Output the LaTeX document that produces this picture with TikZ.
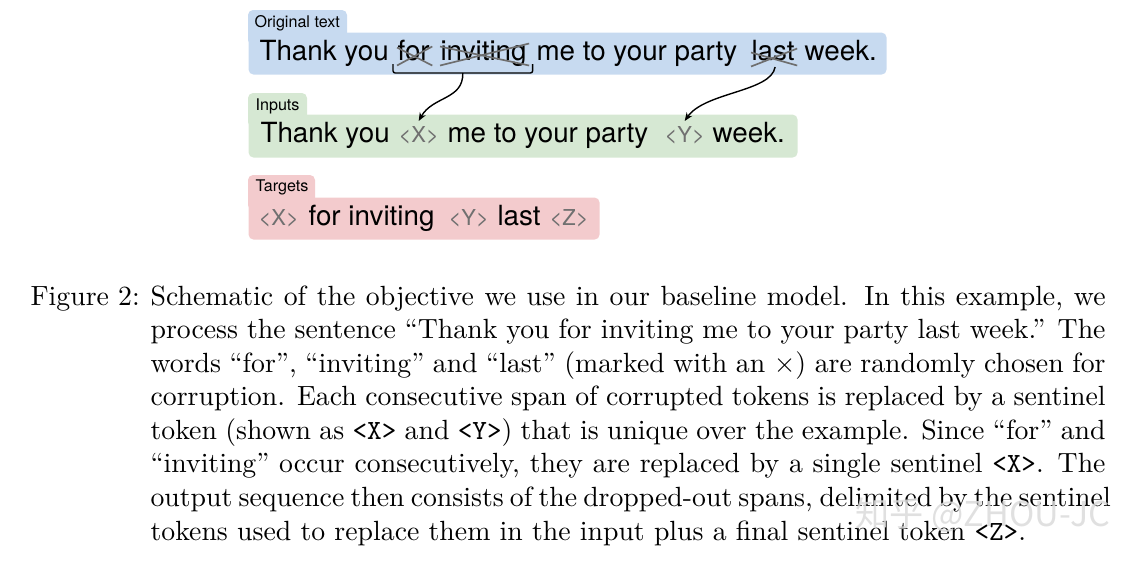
\documentclass[tikz,border=0pt]{standalone}
\usepackage{fontspec}
\newfontfamily\heros{TeX Gyre Heros}
\newfontfamily\cjkwm{Noto Sans CJK SC}
\usetikzlibrary{arrows.meta,calc}
\definecolor{bluebg}{RGB}{199,218,240}
\definecolor{greenbg}{RGB}{214,232,211}
\definecolor{redbg}{RGB}{243,203,205}
\definecolor{tokgray}{RGB}{112,112,112}
\definecolor{xgray}{RGB}{110,110,110}
\newcommand\capline[1]{\makebox[343.8pt][s]{#1}}
\tikzset{
  panel/.style={rounded corners=1.8pt, inner sep=0pt, anchor=north west},
  tabtext/.style={font=\heros\fontsize{5.8}{7}\selectfont, inner sep=0pt, anchor=base west},
  word/.style={font=\heros\fontsize{10}{12}\selectfont, inner sep=0pt, anchor=base west},
  tok/.style={font=\heros\fontsize{7.9}{9}\selectfont, text=tokgray, inner sep=0pt, anchor=base west},
  xline/.style={draw=xgray, line width=0.6pt},
  link/.style={draw=black, line width=0.5pt, -{Stealth[length=3pt,width=2.4pt]}},
  capstyle/.style={inner sep=0pt, anchor=base west},
}
\begin{document}
\begin{tikzpicture}[x=0.36pt,y=-0.36pt]
\useasboundingbox (0,0) rectangle (1136,561);

% panels
\node[panel, fill=bluebg, minimum width=638*0.36pt, minimum height=42*0.36pt] (orig) at (248,32) {};
\fill[bluebg, rounded corners=1.8pt] (248,45) -- (248,10) -- (347,10) -- (347,45) -- cycle;
\node[panel, fill=greenbg, minimum width=549*0.36pt, minimum height=43*0.36pt] (inp) at (248,114) {};
\fill[greenbg, rounded corners=1.8pt] (248,127) -- (248,93) -- (307,93) -- (307,127) -- cycle;
\node[panel, fill=redbg, minimum width=351*0.36pt, minimum height=42*0.36pt] (tgt) at (248,197) {};
\fill[redbg, rounded corners=1.8pt] (248,210) -- (248,175) -- (315,175) -- (315,210) -- cycle;

% tab labels
\node[tabtext] (lorig) at (254,27.5) {Original text};
\node[tabtext] (linp) at (255,110.5) {Inputs};
\node[tabtext] (ltgt) at (255,191.5) {Targets};

% original text
\node[word] (b1) at (259,60.5) {Thank you};
\node[word] (b2) at (397,60.5) {for};
\node[word] (b3) at (440,60.5) {inviting};
\node[word] (b4) at (536,60.5) {me to your party};
\node[word] (b5) at (751,60.5) {last};
\node[word] (b6) at (804,60.5) {week.};

% inputs
\node[word] (g1) at (260,142.5) {Thank you};
\node[tok]  (g2) at (398,142.5) {<X>};
\node[word] (g3) at (447,142.5) {me to your party};
\node[tok]  (g4) at (664,142.5) {<Y>};
\node[word] (g5) at (712,142.5) {week.};

% targets
\node[tok]  (r1) at (258,225.5) {<X>};
\node[word] (r2) at (308,225.5) {for inviting};
\node[tok]  (r3) at (448,225.5) {<Y>};
\node[word] (r4) at (497,225.5) {last};
\node[tok]  (r5) at (549,225.5) {<Z>};

% crosses
\draw[xline] ($(b2.base west)+(0,-13)$) -- ($(b2.base east)+(2,5)$);
\draw[xline] ($(b2.base west)+(0,5)$) -- ($(b2.base east)+(2,-14)$);
\draw[xline] ($(b3.base west)+(0,-14)$) -- ($(b3.base east)+(2,5)$);
\draw[xline] ($(b3.base west)+(0,5)$) -- ($(b3.base east)+(2,-17)$);
\draw[xline] ($(b5.base west)+(0,-8)$) -- ($(b5.base east)+(2,5)$);
\draw[xline] ($(b5.base west)+(0,6)$) -- ($(b5.base east)+(2,-12)$);

% bracket under "for inviting"
\coordinate (bl) at ($(b2.base west)+(-4,12.5)$);
\coordinate (br) at ($(b3.base east)+(5.5,12.5)$);
\draw[line width=0.5pt, rounded corners=0.8pt] ($(bl)+(0,-9)$) -- (bl) -- (br) -- ($(br)+(0,-9)$);
\coordinate (bmid) at ($(bl)!0.5!(br)$);
\coordinate (lastfoot) at ($(b5.base)+(2,6.5)$);
\coordinate (xin) at ($(g2.north)+(0,-5)$);
\coordinate (yin) at ($(g4.north)+(0,-5)$);

% arrows
\draw[link] (bmid) .. controls ($(bmid)+(0.5,27)$) and ($(xin)+(14,-25)$) .. (xin);
\draw[link] (lastfoot) .. controls ($(lastfoot)+(-4,25)$) and ($(yin)+(20,-29)$) .. (yin);

% caption
\node[capstyle] (fig) at (30,305) {Figure 2:};
\node[capstyle] (c1) at (150,305.0) {\capline{Schematic of the objective we use in our baseline model. In this example, we}};
\node[capstyle] (c2) at (150,338.6) {\capline{process the sentence “Thank you for inviting me to your party last week.” The}};
\node[capstyle] (c3) at (150,372.1) {\capline{words “for”, “inviting” and “last” (marked with an $\times$) are randomly chosen for}};
\node[capstyle] (c4) at (150,405.7) {\capline{corruption. Each consecutive span of corrupted tokens is replaced by a sentinel}};
\node[capstyle] (c5) at (150,439.3) {\capline{token (shown as \texttt{<X>} and \texttt{<Y>}) that is unique over the example. Since “for” and}};
\node[capstyle] (c6) at (150,472.9) {\capline{“inviting” occur consecutively, they are replaced by a single sentinel \texttt{<X>}. The}};
\node[capstyle] (c7) at (150,506.4) {\capline{output sequence then consists of the dropped-out spans, delimited by the sentinel}};
\node[capstyle] (c8) at (150,540.0) {tokens used to replace them in the input plus a final sentinel token \texttt{<Z>}.};

% watermark
\node[capstyle, text=gray!28, font=\cjkwm\fontsize{12.3}{14}\selectfont, opacity=0.85] (wm) at (855,526) {知乎 @ZHOU-JC};
\end{tikzpicture}
\end{document}
